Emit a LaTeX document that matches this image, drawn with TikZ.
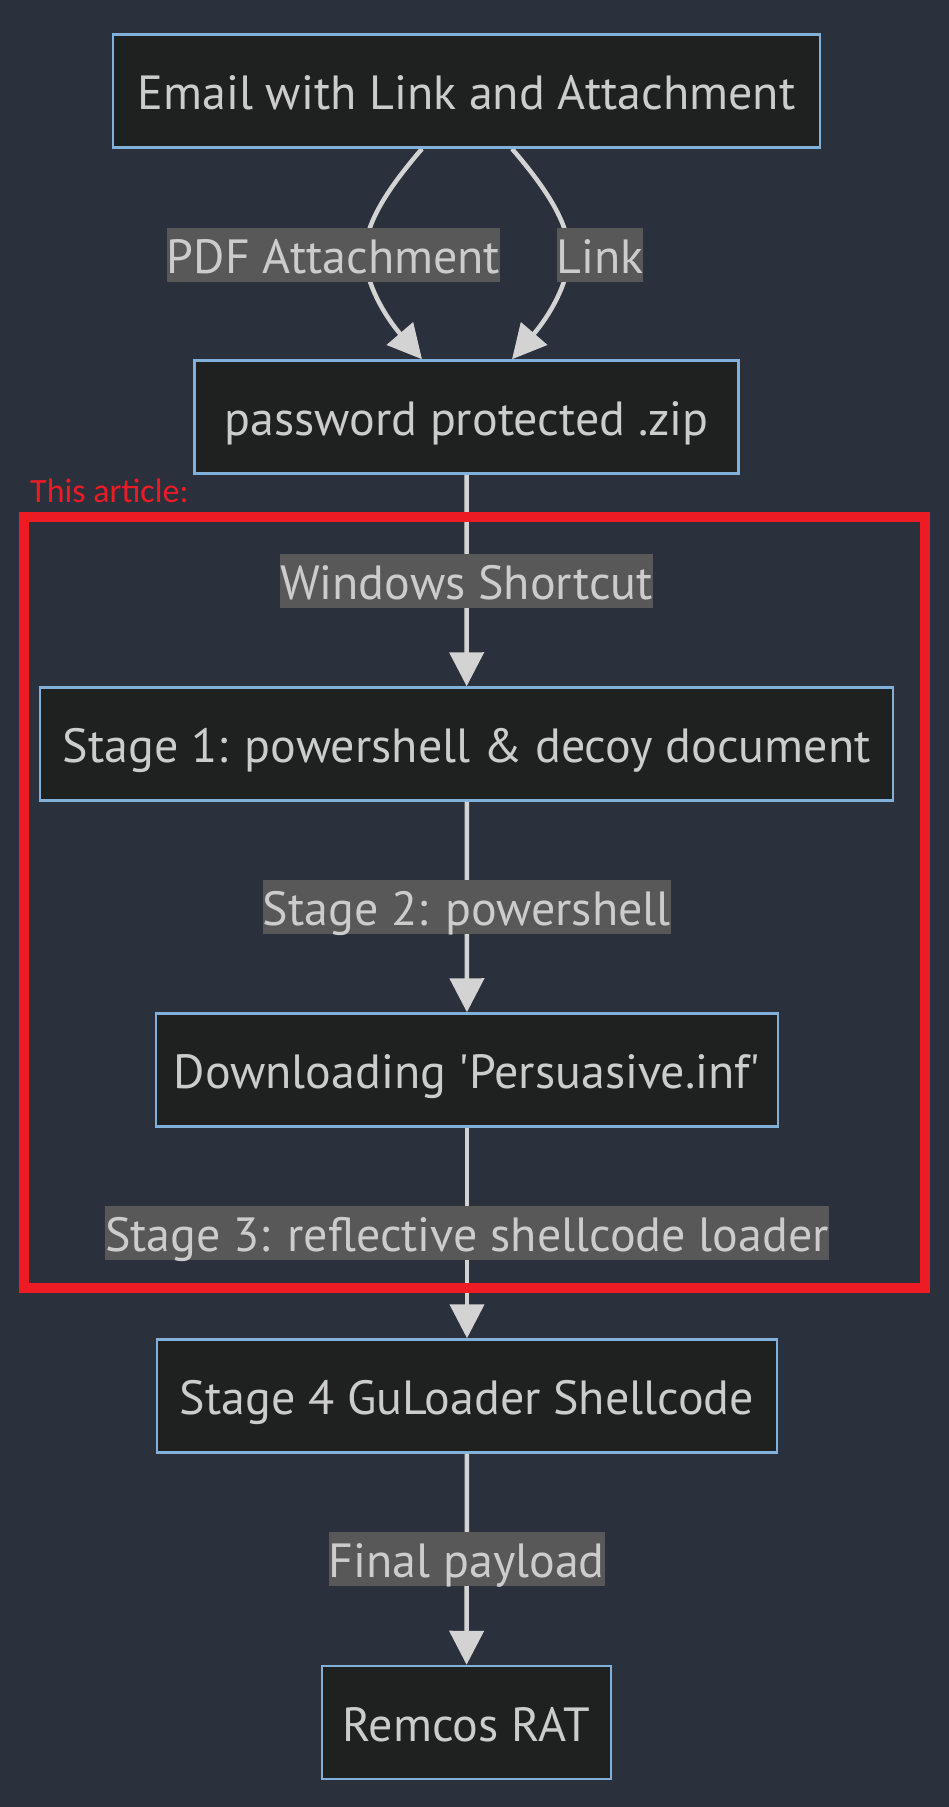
\documentclass[tikz,border=0pt]{standalone}
\usepackage{fontspec}
\setmainfont{PT Sans}
\newfontfamily\notefont{Carlito}
\usetikzlibrary{arrows.meta,calc}
\definecolor{bgc}{HTML}{2A303C}
\definecolor{boxfill}{HTML}{1F2020}
\definecolor{boxline}{HTML}{81B1DB}
\definecolor{txt}{HTML}{CCCCCC}
\definecolor{lblbg}{HTML}{585858}
\definecolor{edgec}{HTML}{D3D3D3}
\definecolor{redbox}{HTML}{ED1C24}
\begin{document}
\begin{tikzpicture}[x=1pt,y=-1pt,
  flowbox/.style={draw=boxline, fill=boxfill, line width=2.5pt, text=txt,
    minimum height=113pt, inner sep=0pt, text height=45pt, text depth=8pt,
    font=\fontsize{48}{52}\selectfont},
  elabel/.style={fill=lblbg, text=txt, inner xsep=0pt, inner ysep=0pt,
    minimum height=54pt, text height=45pt, text depth=8pt,
    font=\fontsize{48}{52}\selectfont},
  flow/.style={draw=edgec, line width=4.5pt, -{Triangle[length=34pt,width=34pt]}},
]
\fill[bgc] (0,0) rectangle (949,1807);
\useasboundingbox (0,0) rectangle (949,1807);

% nodes
\node[flowbox, minimum width=707pt] (email) at (466.5,91) {Email with Link and Attachment};
\node[flowbox, minimum width=544pt] (zip) at (466.5,417) {password protected .zip};
\node[flowbox, minimum width=853pt] (stage1) at (466.7,744) {Stage 1: powershell \& decoy document};
\node[flowbox, minimum width=622pt] (dl) at (467,1070) {Downloading \textquotesingle Persuasive.inf\textquotesingle};
\node[flowbox, minimum width=620pt] (stage4) at (467,1396) {Stage 4 GuLoader Shellcode};
\node[flowbox, minimum width=289pt] (rat) at (466.5,1722.5) {Remcos RAT};

% curved edges
\draw[flow] ($(email.south)+(-44.5,0)$)
   .. controls +(-37,43) and +(0,-29) .. ($(email.south)!0.5!(zip.north)+(-101.5,0)$)
   .. controls +(0,29) and +(-37,-43) .. ($(zip.north)+(-44.5,0)$);
\draw[flow] ($(email.south)+(45.5,0)$)
   .. controls +(37,43) and +(0,-29) .. ($(email.south)!0.5!(zip.north)+(102.5,0)$)
   .. controls +(0,29) and +(37,-43) .. ($(zip.north)+(45.5,0)$);
\node[elabel] (lpdf) at (333.5,254.5) {PDF Attachment};
\node[elabel] (llink) at (600,254.5) {Link};

% straight edges
\draw[flow] (zip) -- node[elabel] (lwin) {Windows Shortcut} (stage1);
\draw[flow] (stage1) -- node[elabel] (ls2) {Stage 2: powershell} (dl);
\draw[flow] (dl) -- node[elabel] (ls3) {Stage 3: reflective shellcode loader} (stage4);
\draw[flow] (stage4) -- node[elabel] (lfin) {Final payload} (rat);

% redraw nodes on top of line ends
\node[flowbox, minimum width=707pt] at (email) {Email with Link and Attachment};
\node[flowbox, minimum width=544pt] at (zip) {password protected .zip};

% article frame
\draw[redbox, line width=10pt] (24,517) rectangle (925,1288);
\node[anchor=base west, text=redbox, inner sep=0pt,
  font=\notefont\fontsize{34}{37}\selectfont] (note) at (30,502) {This article:};
\end{tikzpicture}
\end{document}
